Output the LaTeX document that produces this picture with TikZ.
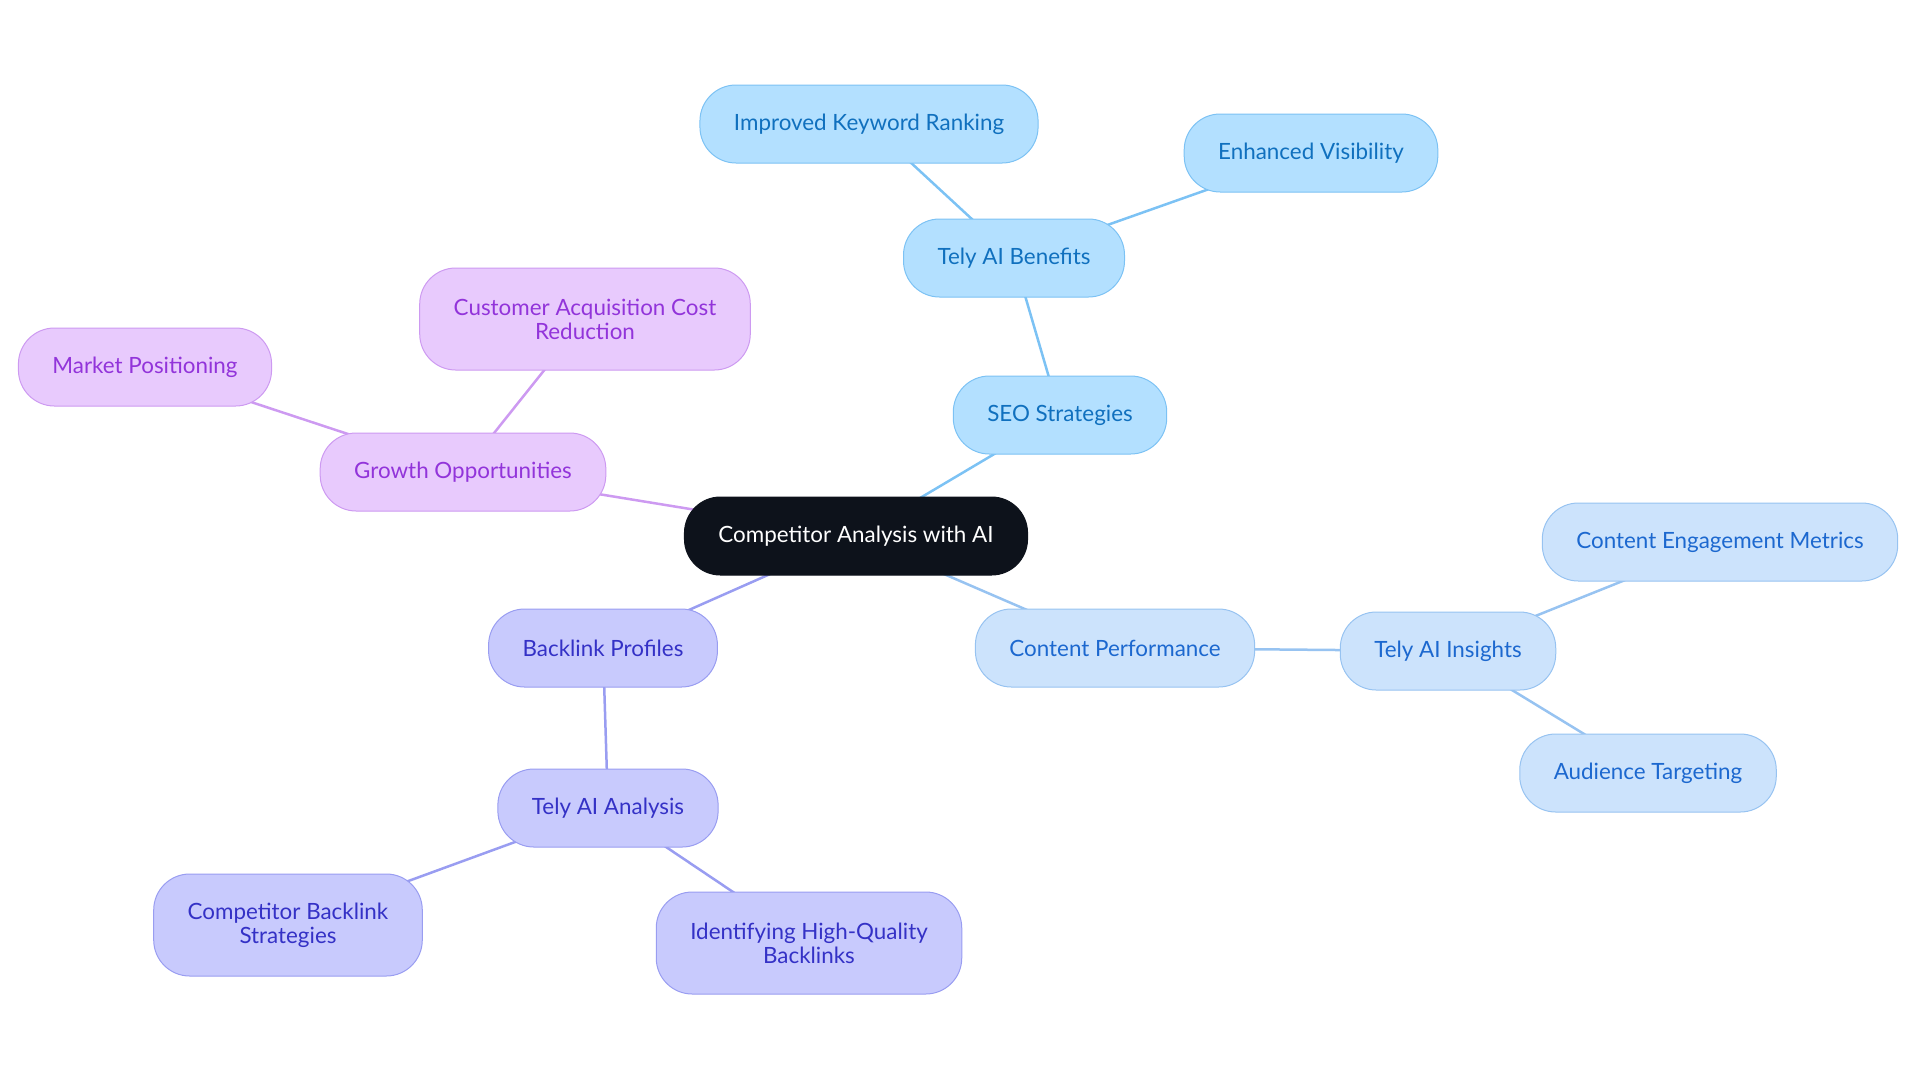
\documentclass[tikz,border=0pt]{standalone}
\usepackage{fontspec}
\setmainfont{Lato}
\usetikzlibrary{backgrounds}
\definecolor{rootfill}{HTML}{0D121B}
\definecolor{seofill}{HTML}{B3E0FF}
\definecolor{seoedge}{HTML}{7CC2F4}
\definecolor{seotext}{HTML}{1070BE}
\definecolor{contfill}{HTML}{CCE3FC}
\definecolor{contedge}{HTML}{97C3F1}
\definecolor{conttext}{HTML}{1C68CF}
\definecolor{linkfill}{HTML}{C8CAFD}
\definecolor{linkedge}{HTML}{999DF1}
\definecolor{linktext}{HTML}{3431C6}
\definecolor{growfill}{HTML}{E8CAFD}
\definecolor{growedge}{HTML}{CD9AF1}
\definecolor{growtext}{HTML}{9234DA}

\begin{document}
\begin{tikzpicture}[x = 0.5pt, y = -0.5pt]

\tikzset{
idea/.style = {rectangle, rounded corners = 18pt, draw, line width = 0.5pt, inner xsep = 17pt, minimum height = 39pt, align = center, font = \fontsize{11.2}{12}\selectfont},
tall/.style = {minimum height = 51pt},
root/.style = {idea, fill = rootfill, draw = rootfill, text = white},
seo/.style = {idea, fill = seofill, draw = seoedge, text = seotext},
cont/.style = {idea, fill = contfill, draw = contedge, text = conttext},
link/.style = {idea, fill = linkfill, draw = linkedge, text = linktext},
growth/.style = {idea, fill = growfill, draw = growedge, text = growtext},
branch/.style = {line width = 1.25pt},
	}

\useasboundingbox (0, 0) rectangle (1920, 1083);

% Root
\node at (856, 536) [root] (Root) {Competitor Analysis with AI};

% SEO
\node at (1060, 415) [seo] (SEO) {SEO Strategies};
\node at (1014, 258) [seo] (Benefits) {Tely AI Benefits};
\node at (869, 124) [seo] (Keyword) {Improved Keyword Ranking};
\node at (1311, 153) [seo] (Visibility) {Enhanced Visibility};

% Content
\node at (1115, 648) [cont] (Content) {Content Performance};
\node at (1448, 651) [cont] (Insights) {Tely AI Insights};
\node at (1720, 542) [cont] (Engagement) {Content Engagement Metrics};
\node at (1648, 773) [cont] (Audience) {Audience Targeting};

% Backlinks
\node at (603, 648) [link] (Backlink) {Backlink Profiles};
\node at (608, 808) [link] (Analysis) {Tely AI Analysis};
\node at (288, 925) [link, tall] (CompBack) {Competitor Backlink\\Strategies};
\node at (809, 943) [link, tall] (HighQ) {Identifying High-Quality\\Backlinks};

% Growth
\node at (463, 472) [growth] (Growth) {Growth Opportunities};
\node at (585, 319) [growth, tall] (CAC) {Customer Acquisition Cost\\Reduction};
\node at (145, 367) [growth] (Market) {Market Positioning};

% Branches
\begin{scope}[on background layer]
\path [branch, draw = seoedge] (Root.center) edge [] (SEO.center);
\path [branch, draw = seoedge] (SEO.center) edge [] (Benefits.center);
\path [branch, draw = seoedge] (Benefits.center) edge [] (Keyword.center);
\path [branch, draw = seoedge] (Benefits.center) edge [] (Visibility.center);
\path [branch, draw = contedge] (Root.center) edge [] (Content.center);
\path [branch, draw = contedge] (Content.center) edge [] (Insights.center);
\path [branch, draw = contedge] (Insights.center) edge [] (Engagement.center);
\path [branch, draw = contedge] (Insights.center) edge [] (Audience.center);
\path [branch, draw = linkedge] (Root.center) edge [] (Backlink.center);
\path [branch, draw = linkedge] (Backlink.center) edge [] (Analysis.center);
\path [branch, draw = linkedge] (Analysis.center) edge [] (CompBack.center);
\path [branch, draw = linkedge] (Analysis.center) edge [] (HighQ.center);
\path [branch, draw = growedge] (Root.center) edge [] (Growth.center);
\path [branch, draw = growedge] (Growth.center) edge [] (CAC.center);
\path [branch, draw = growedge] (Growth.center) edge [] (Market.center);
\end{scope}

\end{tikzpicture}
\end{document}
